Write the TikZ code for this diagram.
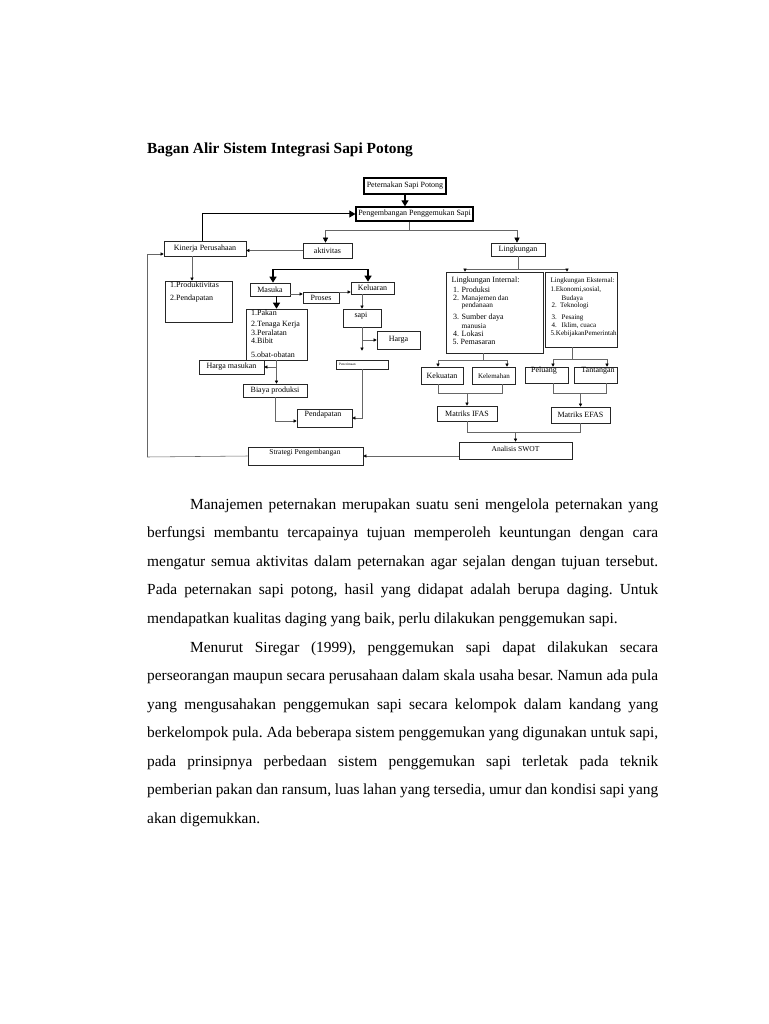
\documentclass[tikz,border=0pt]{standalone}
\usepackage{fontspec}
\setmainfont{Liberation Serif}
\usetikzlibrary{arrows.meta}
\begin{document}
\frenchspacing
\begin{tikzpicture}[x=1pt,y=-1pt,
 box/.style={draw=black!85, line width=0.6pt, inner sep=0pt, font=\fontsize{8}{9}\selectfont},
 tbox/.style={box, line width=1.3pt, draw=black},
 con/.style={draw=black!60, line width=0.55pt},
 arr/.style={con, -{Triangle[length=3pt,width=3pt,color=black]}},
 marr/.style={con, -{Triangle[length=5pt,width=5pt,color=black]}},
 thk/.style={draw=black, line width=1.3pt, -{Triangle[length=6pt,width=7pt]}},
 thkl/.style={draw=black, line width=1pt},
 txt/.style={inner sep=0pt, anchor=base west, font=\fontsize{8}{9}\selectfont},
 etxt/.style={txt, font=\fontsize{7}{8}\selectfont},
 ctxt/.style={inner sep=0pt, anchor=base, font=\fontsize{8}{9}\selectfont},
 body/.style={inner sep=0pt, anchor=base west, font=\fontsize{15.4}{18}\selectfont},
]
\fill[white] (0,0) rectangle (768,1024);
\useasboundingbox (0,0) rectangle (768,1024);

% title
\node[body, font=\fontsize{15.4}{18}\selectfont\bfseries] (title) at (147,154) {Bagan Alir Sistem Integrasi Sapi Potong};

% ---- boxes ----
\node[tbox, minimum width=82pt, minimum height=16pt] (pet) at (405,186) {Peternakan Sapi Potong};
\node[tbox, minimum width=117pt, minimum height=14pt] (peng) at (414.5,214) {Pengembangan Penggemukan Sapi};
\node[box, minimum width=49pt, minimum height=15pt] (aktiv) at (327.5,250.5) {aktivitas};
\node[box, minimum width=54pt, minimum height=13pt] (ling) at (518,249.5) {Lingkungan};
\node[box, minimum width=82pt, minimum height=15pt] (kin) at (205,248.5) {Kinerja Perusahaan};

\node[box, minimum width=67pt, minimum height=41pt] (prod) at (198.5,301.5) {};
\node[txt] (prod1) at (170,287.5) {1.Produktivitas};
\node[txt] (prod2) at (170,300.5) {2.Pendapatan};

\node[box, minimum width=40pt, minimum height=13pt] (masuka) at (270,289.5) {Masuka};
\node[box, minimum width=43pt, minimum height=12pt] (kel) at (372.5,288) {Keluaran};
\node[box, minimum width=36pt, minimum height=11pt] (proses) at (321,297.5) {Proses};

\node[box, minimum width=61pt, minimum height=51pt] (list) at (276.5,334.5) {};
\node[txt] (l1) at (251,315.5) {1.Pakan};
\node[txt] (l2) at (251,326.5) {2.Tenaga Kerja};
\node[txt] (l3) at (251,335) {3.Peralatan};
\node[txt] (l4) at (251,343.5) {4.Bibit};
\node[txt] (l5) at (251,357.5) {5.obat-obatan};

\node[box, minimum width=38pt, minimum height=18pt] (sapi) at (362,318) {};
\node[ctxt] (sapit) at (361,317) {sapi};
\node[box, minimum width=43pt, minimum height=18pt] (harga) at (398.5,340) {Harga};
\node[box, minimum width=52pt, minimum height=9pt] (pener) at (362,364.5) {};
\node[txt, font=\fontsize{3.5}{4}\selectfont] (penert) at (339,365.5) {Penerimaan};
\node[box, minimum width=65pt, minimum height=14pt] (hmas) at (231.5,367) {Harga masukan};
\node[box, minimum width=64pt, minimum height=13pt] (biaya) at (275,390.5) {Biaya produksi};
\node[box, minimum width=55pt, minimum height=18pt] (pend) at (324.5,418) {};
\node[ctxt] (pendt) at (323,416.5) {Pendapatan};
\node[box, minimum width=115pt, minimum height=18pt] (strat) at (305.5,456) {};
\node[ctxt, font=\fontsize{7.5}{9}\selectfont] (stratt) at (305,454) {Strategi Pengembangan};
\node[box, minimum width=113pt, minimum height=17pt] (swot) at (515.5,450.5) {};
\node[ctxt, font=\fontsize{7.5}{9}\selectfont] (swott) at (515.5,451) {Analisis SWOT};

% environment boxes
\node[box, minimum width=97pt, minimum height=81pt] (lint) at (494.5,312.5) {};
\node[txt] (li0) at (451.5,282.5) {Lingkungan Internal:};
\node[txt] (li1) at (453,292.5) {1.};
\node[txt] (li1b) at (461.5,292.5) {Produksi};
\node[txt] (li2) at (453,300.5) {2.};
\node[txt, font=\fontsize{7.3}{9}\selectfont] (li2b) at (461.5,300.5) {Manajemen dan};
\node[txt, font=\fontsize{7.3}{9}\selectfont] (li2c) at (461.5,307.5) {pendanaan};
\node[txt] (li3) at (453,319) {3.};
\node[txt] (li3b) at (461.5,319) {Sumber daya};
\node[txt, font=\fontsize{7.3}{9}\selectfont] (li3c) at (461.5,328.5) {manusia};
\node[txt] (li4) at (453,336) {4.};
\node[txt] (li4b) at (461.5,336) {Lokasi};
\node[txt] (li5) at (452.5,344) {5.};
\node[txt] (li5b) at (460.5,344) {Pemasaran};

\node[box, minimum width=72pt, minimum height=75pt] (leks) at (581,309.5) {};
\node[etxt] (le0) at (550.5,282.5) {Lingkungan Eksternal:};
\node[etxt] (le1) at (550.5,291.5) {1.Ekonomi,sosial,};
\node[etxt] (le1b) at (561.5,300.5) {Budaya};
\node[etxt] (le2) at (551.5,307.5) {2.};
\node[etxt] (le2b) at (560,307.5) {Teknologi};
\node[etxt] (le3) at (551.5,319) {3.};
\node[etxt] (le3b) at (561.5,319) {Pesaing};
\node[etxt] (le4) at (551.5,327.5) {4.};
\node[etxt] (le4b) at (561.5,327.5) {Iklim, cuaca};
\node[etxt] (le5) at (550.5,335.5) {5.KebijakanPemerintah};

\node[box, minimum width=42pt, minimum height=17pt] (kuat) at (442,375.5) {Kekuatan};
\node[box, minimum width=43pt, minimum height=17pt] (lemah) at (493.5,375.5) {};
\node[ctxt, font=\fontsize{7}{8}\selectfont] (lemaht) at (494,378) {Kelemahan};
\node[box, minimum width=43pt, minimum height=16pt] (peluang) at (546.5,375) {};
\node[ctxt] (peluangt) at (544,372.5) {Peluang};
\node[box, minimum width=43pt, minimum height=16pt] (tant) at (595.5,375) {};
\node[ctxt] (tantt) at (598,372) {Tantangan};
\node[box, minimum width=60pt, minimum height=15pt] (ifas) at (467,413.5) {Matriks IFAS};
\node[box, minimum width=59pt, minimum height=16pt] (efas) at (580.5,415) {Matriks EFAS};

% ---- connectors ----
\draw[thk] (pet.south) -- (pet.south |- peng.north);
\draw[thk, line width=1pt] ([xshift=-3pt]kin.north) |- (peng.west);
\coordinate (pj) at ([xshift=-5.5pt]peng.south);
\draw[con] (pj) -- ++(0,9) coordinate (pjb);
\draw[marr] (pjb) -| ([xshift=-2pt]aktiv.north);
\draw[marr] (pjb) -| ([xshift=-1pt]ling.north);
\draw[arr] (aktiv.west) -- (aktiv.west -| kin.east);
\draw[arr] ([xshift=-13pt]kin.south) -- ([xshift=-13pt]kin.south |- prod.north);

% aktivitas bracket
\coordinate (bk) at (320,269);
\draw[thkl] (bk) -- ++(-47,0) coordinate (bkl);
\draw[thkl] (bk) -- ++(48,0) coordinate (bkr);
\draw[thk] (bkl) -- ([xshift=3pt]masuka.north);
\draw[thk] (bkr) -- ([xshift=-4.5pt]kel.north);

\draw[arr] ([yshift=-4.5pt]masuka.east) -- ([yshift=-4.5pt]masuka.east -| proses.west);
\draw[arr] ([yshift=5.5pt]proses.east) -- ([yshift=5.5pt]proses.east -| kel.west);
\draw[arr] (sapi.north |- kel.south) -- (sapi.north);
\draw[thk] (list.north |- masuka.south) -- (list.north);

\draw[arr] (sapi.south) -- ([yshift=9pt]pener.north);
\draw[arr] (sapi.south |- harga.west) -- (harga.west);
\draw[arr] (pener.south) |- (pend.east);
\draw[arr] (list.south) -- (list.south |- biaya.north);
\draw[arr] (list.south |- hmas.east) -- (hmas.east);
\draw[arr] (biaya.south) |- ([yshift=-3pt]pend.west);

\coordinate (fb) at (147,457);
\draw[con] (strat.west) -- (fb);
\draw[arr] (fb) |- ([yshift=-5.5pt]kin.west);
\draw[arr] (swot.west |- strat.east) -- (strat.east);

% environment connectors
\draw[con] (ling.south) -- ++(0,12.5) coordinate (lj);
\draw[arr] (lj) -| ([xshift=-29.5pt]lint.north);
\draw[arr] (lj) -| ([xshift=-14pt]leks.north);

\draw[con] ([xshift=-11.5pt]lint.south) -- ++(0,7) coordinate (ij);
\draw[arr] (ij) -| ([xshift=-4pt]kuat.north);
\draw[arr] (ij) -| ([xshift=13.5pt]lemah.north);

\draw[con] ([xshift=-9pt]leks.south) -- ++(0,12) coordinate (ej);
\draw[arr] (ej) -| ([xshift=6.5pt]peluang.north);
\draw[arr] (ej) -| ([xshift=11.5pt]tant.north);

\draw[con] ([xshift=-4pt]kuat.south) |- ([yshift=12pt]ifas.north) coordinate (sw1) -| ([xshift=8.5pt]lemah.south);
\draw[arr] (ifas.north |- sw1) -- (ifas.north);
\draw[con] ([xshift=6.5pt]peluang.south) |- ([yshift=13pt]efas.north) coordinate (sw2) -| ([xshift=10.5pt]tant.south);
\draw[arr] (efas.north |- sw2) -- (efas.north);
\draw[con] (ifas.south) |- ([yshift=9pt]swot.north) coordinate (sw3) -| (efas.south);
\draw[arr] (swot.north |- sw3) -- (swot.north);

% ---- body text ----
\node[body] (a1) at (190,509) {\makebox[468pt][s]{Manajemen peternakan merupakan suatu seni mengelola peternakan yang}};
\node[body] (a2) at (147,537.5) {\makebox[511pt][s]{berfungsi membantu tercapainya tujuan memperoleh keuntungan dengan cara}};
\node[body] (a3) at (147,566) {\makebox[511pt][s]{mengatur semua aktivitas dalam peternakan agar sejalan dengan tujuan tersebut.}};
\node[body] (a4) at (147,594.5) {\makebox[511pt][s]{Pada peternakan sapi potong, hasil yang didapat adalah berupa daging. Untuk}};
\node[body] (a5) at (147,623) {mendapatkan kualitas daging yang baik, perlu dilakukan penggemukan sapi.};

\node[body] (b1) at (190,652) {\makebox[468pt][s]{Menurut Siregar (1999), penggemukan sapi dapat dilakukan secara}};
\node[body] (b2) at (147,680.5) {\makebox[511pt][s]{perseorangan maupun secara perusahaan dalam skala usaha besar. Namun ada pula}};
\node[body] (b3) at (147,709) {\makebox[511pt][s]{yang mengusahakan penggemukan sapi secara kelompok dalam kandang yang}};
\node[body] (b4) at (147,737.5) {\makebox[511pt][s]{berkelompok pula. Ada beberapa sistem penggemukan yang digunakan untuk sapi,}};
\node[body] (b5) at (147,766) {\makebox[511pt][s]{pada prinsipnya perbedaan sistem penggemukan sapi terletak pada teknik}};
\node[body] (b6) at (147,794.5) {\makebox[511pt][s]{pemberian pakan dan ransum, luas lahan yang tersedia, umur dan kondisi sapi yang}};
\node[body] (b7) at (147,823) {akan digemukkan.};
\end{tikzpicture}
\end{document}
